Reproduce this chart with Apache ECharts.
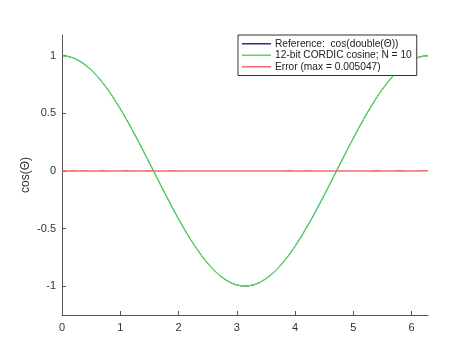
<!DOCTYPE html>
<html>
<head>
<meta charset="utf-8">
<script src="https://cdn.jsdelivr.net/npm/echarts@6/dist/echarts.min.js"></script>
<style>
html, body { margin: 0; padding: 0; background: #fff; }
#chart { width: 474px; height: 355px; }
</style>
</head>
<body>
<div id="chart"></div>
<script>
// theta samples (rad)
const thetaVals = [0, 0.1, 0.2, 0.3, 0.4, 0.5, 0.6, 0.7, 0.8, 0.9,
	1.0, 1.1, 1.2, 1.3, 1.4, 1.5, 1.6, 1.7, 1.8, 1.9,
	2.0, 2.1, 2.2, 2.3, 2.4, 2.5, 2.6, 2.7, 2.8, 2.9,
	3.0, 3.1, 3.2, 3.3, 3.4, 3.5, 3.6, 3.7, 3.8, 3.9,
	4.0, 4.1, 4.2, 4.3, 4.4, 4.5, 4.6, 4.7, 4.8, 4.9,
	5.0, 5.1, 5.2, 5.3, 5.4, 5.5, 5.6, 5.7, 5.8, 5.9,
	6.0, 6.1, 6.2, 6.283]

// reference cosine
const refVals = [1.000, 0.995, 0.980, 0.955, 0.921, 0.878, 0.825, 0.765, 0.697, 0.622,
	0.540, 0.454, 0.362, 0.267, 0.170, 0.071, -0.029, -0.129, -0.227, -0.323,
	-0.416, -0.505, -0.589, -0.666, -0.737, -0.801, -0.857, -0.904, -0.942, -0.971,
	-0.990, -0.999, -0.998, -0.987, -0.967, -0.936, -0.897, -0.848, -0.791, -0.726,
	-0.654, -0.575, -0.490, -0.401, -0.307, -0.211, -0.112, -0.012, 0.087, 0.187,
	0.284, 0.378, 0.469, 0.554, 0.635, 0.709, 0.776, 0.835, 0.886, 0.927,
	0.960, 0.983, 0.997, 1.000]

// 12-bit CORDIC result
const cordicVals = [0.999, 0.995, 0.979, 0.955, 0.920, 0.878, 0.825, 0.764, 0.697, 0.622,
	0.541, 0.453, 0.362, 0.268, 0.170, 0.070, -0.029, -0.128, -0.227, -0.324,
	-0.416, -0.505, -0.588, -0.666, -0.737, -0.801, -0.856, -0.904, -0.942, -0.971,
	-0.989, -0.999, -0.998, -0.987, -0.966, -0.936, -0.896, -0.848, -0.791, -0.727,
	-0.654, -0.575, -0.491, -0.401, -0.307, -0.210, -0.112, -0.012, 0.088, 0.187,
	0.284, 0.379, 0.469, 0.554, 0.634, 0.709, 0.776, 0.835, 0.885, 0.927,
	0.960, 0.983, 0.996, 0.999]

// error = reference - cordic
const errVals = [0.001, 0.000, 0.001, 0.000, 0.001, 0.000, 0.000, 0.001, 0.000, 0.000,
	-0.001, 0.001, 0.000, -0.001, 0.000, 0.001, 0.000, -0.001, 0.000, 0.001,
	0.000, 0.000, -0.001, 0.000, 0.000, 0.000, -0.001, 0.000, 0.000, 0.000,
	-0.001, 0.000, 0.000, 0.000, -0.001, 0.000, -0.001, 0.000, 0.000, 0.001,
	0.000, 0.000, 0.001, 0.000, 0.000, -0.001, 0.000, 0.000, -0.001, 0.000,
	0.000, -0.001, 0.000, 0.000, 0.001, 0.000, 0.000, 0.000, 0.001, 0.000,
	0.000, 0.000, 0.001, 0.001]

const xTicks = [0, 1, 2, 3, 4, 5, 6]
const yTicks = [-1, -0.5, 0, 0.5, 1]

const seriesNames = ['Reference:  cos(double(\u0398))', '12-bit CORDIC cosine; N = 10', 'Error (max = 0.005047)']
const seriesColors = ['#2a2a9c', '#4ee05a', '#f26a6a']

function pairs(ys) {
	return thetaVals.map(function (x, i) { return [x, ys[i]] })
}

const myChart = echarts.init(document.getElementById('chart'))
const axisColor = '#555'
const font = 'Liberation Sans, Arial, sans-serif'

const option = {
	animation: false,
	grid: { left: 62, right: 46, top: 35, bottom: 40 },
	legend: {
		orient: 'vertical',
		left: 238,
		top: 35,
		padding: [3, 5, 3, 4],
		itemGap: 0,
		itemWidth: 29,
		itemHeight: 1.5,
		icon: 'rect',
		backgroundColor: '#fff',
		borderColor: '#333',
		borderWidth: 1,
		borderRadius: 0,
		textStyle: { fontFamily: font, fontSize: 10.2, color: '#222', lineHeight: 11.5, padding: [0, 0, 0, -1] },
		data: seriesNames
	},
	xAxis: {
		type: 'value',
		min: 0,
		max: 6.2832,
		splitLine: { show: false },
		axisLine: { onZero: false, lineStyle: { color: axisColor, width: 1 } },
		axisTick: { inside: true, length: 4, customValues: xTicks, lineStyle: { color: axisColor } },
		axisLabel: { customValues: xTicks, margin: 7, color: '#333', fontFamily: font, fontSize: 11 }
	},
	yAxis: {
		type: 'value',
		min: -1.25,
		max: 1.18,
		name: 'cos(\u0398)',
		nameLocation: 'middle',
		nameGap: 30,
		nameMoveOverlap: false,
		nameTextStyle: { color: '#333', fontFamily: font, fontSize: 12 },
		splitLine: { show: false },
		axisLine: { show: true, onZero: false, lineStyle: { color: axisColor, width: 1 } },
		axisTick: { show: true, inside: true, length: 4, customValues: yTicks, lineStyle: { color: axisColor } },
		axisLabel: { customValues: yTicks, margin: 6, color: '#333', fontFamily: font, fontSize: 11 }
	},
	series: [
		{ name: seriesNames[0], type: 'line', data: pairs(refVals), symbol: 'none', color: seriesColors[0], lineStyle: { width: 1, color: seriesColors[0] } },
		{ name: seriesNames[1], type: 'line', data: pairs(cordicVals), symbol: 'none', color: seriesColors[1], lineStyle: { width: 1.2, color: seriesColors[1] } },
		{ name: seriesNames[2], type: 'line', data: pairs(errVals), symbol: 'none', color: seriesColors[2], lineStyle: { width: 1.5, color: seriesColors[2] } }
	]
}

myChart.setOption(option)
</script>
</body>
</html>
